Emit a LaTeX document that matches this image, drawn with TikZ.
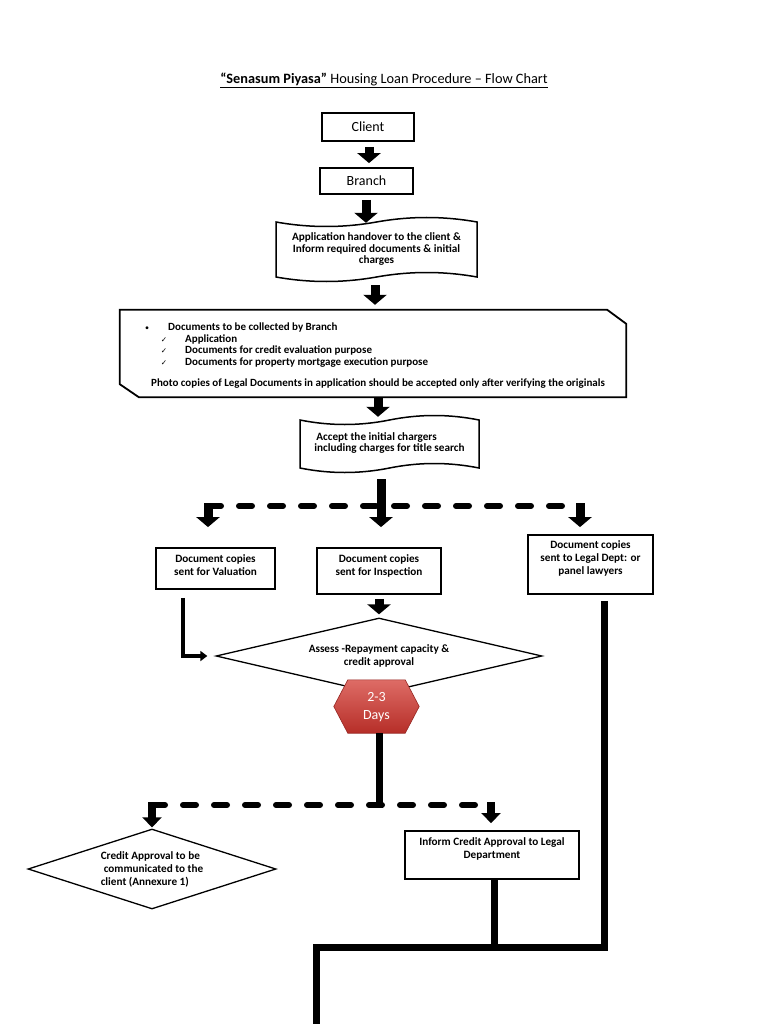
\documentclass[tikz,border=0pt]{standalone}
\usepackage{fontspec}
\setmainfont{Carlito}
\newfontfamily\symf{DejaVu Sans}
\usetikzlibrary{arrows.meta,shapes.geometric}
\definecolor{hextop}{RGB}{222,108,102}
\definecolor{hexbot}{RGB}{182,46,40}
\definecolor{hexline}{RGB}{150,38,34}
\newcommand{\tapeshape}[4]{%
 \draw[line width=1.5pt, fill=white]
 (#1,#2) .. controls ({#1+(#3-#1)/6},{#2+6}) and ({#1+(#3-#1)/3},{#2+6}) .. ({(#1+#3)/2},#2)
 .. controls ({#1+2*(#3-#1)/3},{#2-6}) and ({#1+5*(#3-#1)/6},{#2-6}) .. (#3,#2)
 -- (#3,#4)
 .. controls ({#1+5*(#3-#1)/6},{#4-6}) and ({#1+2*(#3-#1)/3},{#4-6}) .. ({(#1+#3)/2},#4)
 .. controls ({#1+(#3-#1)/3},{#4+6}) and ({#1+(#3-#1)/6},{#4+6}) .. (#1,#4) -- cycle;}
\begin{document}
\begin{tikzpicture}[x=1pt,y=-1pt,
  box/.style={draw, line width=1.8pt, inner sep=0pt},
  txt/.style={font=\fontsize{11.2}{13}\selectfont\bfseries, align=center, inner sep=0pt},
  tapetxt/.style={font=\fontsize{11.2}{11.5}\selectfont\bfseries, align=center, inner sep=0pt},
  bigarrow/.style={line width=9pt, -{Triangle[width=23pt,length=10pt]}},
  smallarrow/.style={line width=8pt, -{Triangle[width=19pt,length=10pt]}},
  dashline/.style={line width=6pt, dash pattern=on 13pt off 18pt, line cap=round},
  thickline/.style={line width=7pt, line join=miter},
]
\useasboundingbox (0,0) rectangle (768,1024);
\fill[white] (0,0) rectangle (768,1024);

% title
\node[font=\fontsize{14.3}{16}\selectfont, inner sep=0pt] (title) at (384,80)
  {\underline{\textbf{“Senasum Piyasa”} Housing Loan Procedure – Flow Chart}};

% client / branch
\node[box, minimum width=92pt, minimum height=28pt, font=\fontsize{14}{16}\selectfont] (client) at (368,127) {Client};
\node[box, minimum width=93pt, minimum height=26pt, font=\fontsize{14}{16}\selectfont] (branch) at (366.5,181) {Branch};
\draw[bigarrow, shorten <=5pt, shorten >=4pt] ([xshift=1pt]client.south) -- ([xshift=1pt]client.south |- branch.north);

% tape 1
\tapeshape{276}{222}{477}{277}
\node[tapetxt, minimum width=201pt, minimum height=55pt] (tape1) at (376.5,249.5)
  {Application handover to the client \&\\Inform required documents \& initial\\charges};
\draw[bigarrow, shorten <=5pt, shorten >=-1pt] ([xshift=-0.5pt]branch.south) -- ([xshift=-0.5pt]branch.south |- tape1.north);

% documents box
\node[minimum width=506pt, minimum height=87pt, inner sep=0pt] (docs) at (373,353.5) {};
\draw[line width=1.8pt, line join=miter] (docs.north west) -- ([xshift=-19pt]docs.north east) -- ([yshift=-14pt]docs.north east)
  -- (docs.south east) -- ([xshift=19pt]docs.south west) -- ([yshift=13pt]docs.south west) -- cycle;
\draw[bigarrow, shorten <=8pt, shorten >=5pt] ([xshift=-1.5pt]tape1.south) -- ([xshift=-1.5pt]tape1.south |- docs.north);
\begin{scope}[every node/.style={font=\fontsize{11}{12}\selectfont\bfseries, inner sep=0pt}]
\node[anchor=base, font=\fontsize{8}{9}\selectfont] (bul) at (147,330) {•};
\node[anchor=base west] (d1) at (168,330.5) {Documents to be collected by Branch};
\node[anchor=base, font=\fontsize{7.5}{9}\symf] (c1) at (164,342) {✓};
\node[anchor=base west] (d2) at (185,342) {Application};
\node[anchor=base, font=\fontsize{7.5}{9}\symf] (c2) at (164,353.5) {✓};
\node[anchor=base west] (d3) at (185,353.5) {Documents for credit evaluation purpose};
\node[anchor=base, font=\fontsize{7.5}{9}\symf] (c3) at (164,365) {✓};
\node[anchor=base west] (d4) at (185,365) {Documents for property mortgage execution purpose};
\node[anchor=base] (d5) at (378,386) {Photo copies of Legal Documents in application should be accepted only after verifying the originals};
\end{scope}

% tape 2
\tapeshape{300}{420}{479}{468}
\node[tapetxt, align=left, minimum width=179pt, minimum height=48pt] (tape2) at (389.5,443)
  {\hspace{2pt}Accept the initial chargers\\including charges for title search};
\draw[bigarrow, shorten <=1pt, shorten >=2pt] ([xshift=5pt]docs.south) -- ([xshift=5pt]docs.south |- tape2.north);

% three boxes
\node[box, minimum width=119pt, minimum height=41pt] (val) at (215.5,568.5) {};
\node[txt] (valt) at (215.5,565.5) {Document copies\\sent for Valuation};
\node[box, minimum width=124pt, minimum height=46pt] (insp) at (379,571) {};
\node[txt] (inspt) at (379,565.5) {Document copies\\sent for Inspection};
\node[box, minimum width=125pt, minimum height=59pt] (legal) at (590.5,564.5) {};
\node[txt] (legalt) at (590.5,558.5) {Document copies\\sent to Legal Dept: or\\panel lawyers};

% split 1
\coordinate (jl) at (208,506);
\coordinate (jr) at (580,506);
\draw[dashline] (jl) -- (jr);
\draw[bigarrow, shorten <=12pt, shorten >=20pt] ([xshift=2pt]insp.north |- tape2.south) -- ([xshift=2pt]insp.north);
\draw[bigarrow, shorten <=-3pt, shorten >=20pt] (jl) -- (jl |- val.north);
\draw[bigarrow, shorten <=-3pt, shorten >=7pt] (jr) -- (jr |- legal.north);

% assess diamond
\node[diamond, draw, line width=1.3pt, minimum width=326pt, minimum height=76pt, aspect=4.3, txt] (diam1) at (379,656)
  {Assess -Repayment capacity \&\\credit approval};
\draw[bigarrow, shorten <=4pt, shorten >=3pt] (insp.south) -- (diam1.north);
\draw[line width=4pt, line join=miter, -{Triangle[width=10pt,length=7pt]}, shorten >=8pt]
  ([xshift=-32.5pt,yshift=-8pt]val.south) |- (diam1.west);

% hexagon
\node[minimum width=85pt, minimum height=53pt, inner sep=0pt] (hex) at (376.5,706.5) {};
\shade[top color=hextop, bottom color=hexbot, draw=hexline, line width=0.6pt]
  (hex.west) -- ([xshift=14pt]hex.north west) -- ([xshift=-14pt]hex.north east) -- (hex.east)
  -- ([xshift=-14pt]hex.south east) -- ([xshift=14pt]hex.south west) -- cycle;
\node[font=\fontsize{14}{18}\selectfont, text=white, align=center, inner sep=0pt] (hext) at (376.5,707) {2-3\\Days};

% split 2
\coordinate (kl) at (152,805);
\coordinate (kr) at (491,805);
\draw[thickline] ([xshift=2.5pt]hex.south) -- ([xshift=2.5pt,yshift=-3pt]hex.south |- kl);
\draw[dashline] (kl) -- (kr);

\node[diamond, draw, line width=1.3pt, minimum width=248pt, minimum height=80pt, aspect=3.1, txt, align=left] (diam2) at (152,869)
  {Credit Approval to be\\\hspace{3pt}communicated to the\\client (Annexure 1)};
\node[box, minimum width=174pt, minimum height=48pt] (inform) at (492,855) {};
\node[txt] (informt) at (492,849) {Inform Credit Approval to Legal\\Department};
\draw[smallarrow, shorten <=-3pt, shorten >=1pt] (kl) -- (kl |- diam2.north);
\draw[smallarrow, shorten <=-3pt, shorten >=7pt] (kr) -- (kr |- inform.north);

% bottom lines
\coordinate (m1) at (604,947);
\coordinate (m2) at (316,947);
\coordinate (m3) at (316,1030);
\draw[thickline] ([xshift=13.5pt,yshift=-6pt]legal.south) -- (m1) -- (m2) -- (m3);
\draw[thickline] ([xshift=2pt]inform.south) -- ([xshift=2pt]inform.south |- m1);
\end{tikzpicture}
\end{document}
